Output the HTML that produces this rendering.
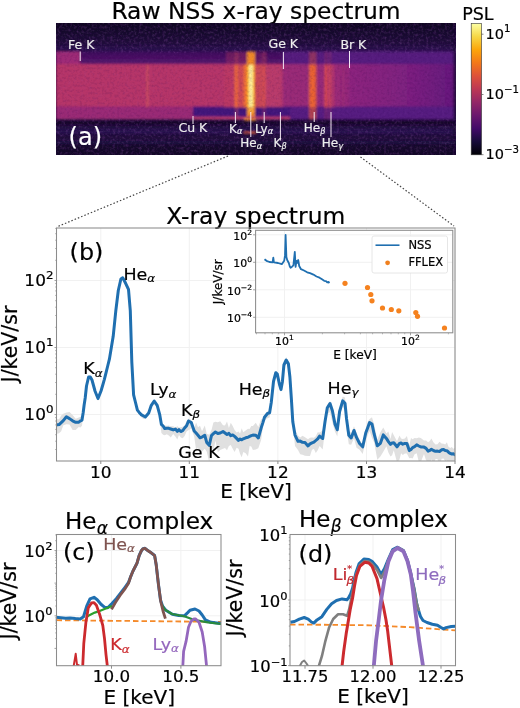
<!DOCTYPE html><html><head><meta charset="utf-8"><style>html,body{margin:0;padding:0;background:#fff;width:520px;height:708px;overflow:hidden}svg{display:block}text{font-family:'DejaVu Sans','Liberation Sans',sans-serif}</style></head><body>
<svg width="520" height="708" viewBox="0 0 520 708">
<defs>
<linearGradient id="cbar" x1="0" y1="1" x2="0" y2="0"><stop offset="0.0" stop-color="#000004"/><stop offset="0.1" stop-color="#160b39"/><stop offset="0.2" stop-color="#420a68"/><stop offset="0.3" stop-color="#6a176e"/><stop offset="0.4" stop-color="#932667"/><stop offset="0.5" stop-color="#bc3754"/><stop offset="0.6" stop-color="#dd513a"/><stop offset="0.7" stop-color="#f37819"/><stop offset="0.8" stop-color="#fca50a"/><stop offset="0.9" stop-color="#f6d746"/><stop offset="1.0" stop-color="#fcffa4"/></linearGradient>
<linearGradient id="mainband" x1="56" y1="0" x2="456" y2="0" gradientUnits="userSpaceOnUse">
<stop offset="0" stop-color="#b63468"/><stop offset="0.4" stop-color="#b63468"/><stop offset="0.56" stop-color="#b0326a"/>
<stop offset="0.567" stop-color="#9a2a76"/><stop offset="0.73" stop-color="#952879"/><stop offset="0.735" stop-color="#8c247d"/>
<stop offset="0.87" stop-color="#7e207f"/><stop offset="1" stop-color="#64187c"/></linearGradient>
<filter id="noise" x="0" y="0" width="100%" height="100%"><feTurbulence type="fractalNoise" baseFrequency="0.38" numOctaves="2" seed="3" result="t"/>
<feColorMatrix type="matrix" values="0 0 0 0 0.36  0 0 0 0 0.12  0 0 0 0 0.5  1.6 0 0 0 -0.7"/></filter>
<filter id="noise2" x="0" y="0" width="100%" height="100%"><feTurbulence type="fractalNoise" baseFrequency="0.4" numOctaves="2" seed="11" result="t"/>
<feColorMatrix type="matrix" values="0 0 0 0 0.02  0 0 0 0 0.0  0 0 0 0 0.06  1.8 0 0 0 -0.8"/></filter>
<filter id="soft" x="-5%" y="-5%" width="110%" height="110%"><feGaussianBlur stdDeviation="1.0"/></filter>
<clipPath id="clipa"><rect x="56" y="23" width="400" height="132"/></clipPath>
<clipPath id="clipb"><rect x="56.5" y="228" width="398.5" height="233"/></clipPath>
<clipPath id="clipi"><rect x="255.6" y="230.3" width="197.4" height="102.5"/></clipPath>
<clipPath id="clipc"><rect x="56.5" y="534.5" width="164.5" height="131.2"/></clipPath>
<clipPath id="clipd"><rect x="290" y="534.5" width="165.5" height="131.2"/></clipPath>
<linearGradient id="bgv" x1="0" y1="23" x2="0" y2="155" gradientUnits="userSpaceOnUse"><stop offset="0" stop-color="#0e0620"/><stop offset="0.06" stop-color="#140a2a"/><stop offset="0.13" stop-color="#1c0c36"/><stop offset="0.2" stop-color="#281044"/><stop offset="0.22" stop-color="#2c124c"/><stop offset="0.74" stop-color="#1a0a32"/><stop offset="0.76" stop-color="#140826"/><stop offset="0.8" stop-color="#1e0c38"/><stop offset="0.88" stop-color="#200e3a"/><stop offset="0.92" stop-color="#160a2c"/><stop offset="1" stop-color="#120826"/></linearGradient>
<linearGradient id="ubv" x1="0" y1="51.5" x2="0" y2="64.5" gradientUnits="userSpaceOnUse"><stop offset="0" stop-color="#3c0e5a"/><stop offset="1" stop-color="#5a146e"/></linearGradient>
</defs>
<text x="256" y="18.7" font-size="22.7" text-anchor="middle" fill="#000"  transform="matrix(1.03 0 0 1 -7.68 0)" stroke="#000" stroke-width="0.2">Raw NSS x-ray spectrum</text>
<g clip-path="url(#clipa)">
<rect x="56" y="23" width="400" height="132" fill="url(#bgv)"/>
<g filter="url(#soft)">
<rect x="56" y="46" width="400" height="6" fill="#24104a" opacity="0.8"/>
<rect x="56" y="51.5" width="400" height="13" fill="#2e0e54"/>
<rect x="56" y="51.5" width="24.5" height="13" fill="#9e2c76"/>
<rect x="80.5" y="51.5" width="202.5" height="13" fill="url(#ubv)"/>
<rect x="283" y="51.5" width="173" height="13" fill="#561a7e"/>
<rect x="56" y="64" width="400" height="43" fill="url(#mainband)"/>
<rect x="56" y="106.5" width="137" height="13" fill="#9a2b74"/>
<rect x="193" y="106.5" width="263" height="13" fill="#561a80"/>
<rect x="193" y="107" width="97" height="9.6" fill="#42167a"/>
<rect x="56" y="127" width="400" height="7" fill="#2a1250" opacity="0.6"/>
<rect x="56" y="131" width="400" height="2" fill="#2c1454" opacity="0.8"/>
<rect x="56" y="141" width="400" height="3" fill="#22104a" opacity="0.6"/>
<rect x="56" y="124.5" width="400" height="1.5" fill="#281250" opacity="0.6"/>
<rect x="146.8" y="64.5" width="1.4" height="43" fill="#e0605a" opacity="0.8"/>
<rect x="224" y="64.5" width="10" height="43" fill="#c03e60" opacity="0.6"/>
<rect x="234.3" y="64.5" width="4.2" height="43" fill="#e8643e" opacity="1.0"/>
<rect x="238.2" y="64.5" width="5.5" height="43" fill="#d04c52" opacity="0.95"/>
<rect x="243.5" y="64.5" width="3.5" height="43" fill="#f07030" opacity="1.0"/>
<rect x="246.5" y="64.5" width="9" height="43" fill="#f89424" opacity="1.0"/>
<rect x="248.2" y="64.5" width="5.4" height="43" fill="#fdd448" opacity="1.0"/>
<rect x="249.2" y="64.5" width="3.4" height="43" fill="#fff4a0" opacity="1.0"/>
<rect x="254.8" y="64.5" width="7" height="43" fill="#cc4a52" opacity="0.9"/>
<rect x="262" y="64.5" width="4" height="43" fill="#d44e50" opacity="0.9"/>
<rect x="266" y="64.5" width="17" height="43" fill="#c2426a" opacity="0.5"/>
<rect x="309" y="64.5" width="7.5" height="43" fill="#e25a36" opacity="1.0"/>
<rect x="310.5" y="64.5" width="4" height="43" fill="#ec6830" opacity="0.8"/>
<rect x="324.5" y="64.5" width="3" height="43" fill="#dc4c4c" opacity="0.95"/>
<rect x="328.5" y="64.5" width="3" height="43" fill="#d4485a" opacity="0.9"/>
<rect x="332.5" y="64.5" width="2" height="43" fill="#c44064" opacity="0.7"/>
<rect x="337.5" y="64.5" width="1.5" height="43" fill="#b03870" opacity="0.5"/>
<rect x="342.5" y="64.5" width="1.5" height="43" fill="#a83470" opacity="0.5"/>
<rect x="234.8" y="52" width="3.4" height="12.5" fill="#c04a60" opacity="0.45"/>
<rect x="234.8" y="107.5" width="3.4" height="12" fill="#c04a60" opacity="0.45"/>
<rect x="262" y="52" width="4" height="12.5" fill="#b04060" opacity="0.35"/>
<rect x="262" y="107.5" width="4" height="12" fill="#b04060" opacity="0.35"/>
<rect x="309" y="52" width="7.5" height="12.5" fill="#d05040" opacity="0.45"/>
<rect x="309" y="107.5" width="7.5" height="12" fill="#d05040" opacity="0.75"/>
<rect x="324.5" y="52" width="3" height="12.5" fill="#a03c60" opacity="0.4"/>
<rect x="324.5" y="107.5" width="3" height="12" fill="#a03c60" opacity="0.4"/>
<rect x="328.5" y="52" width="3" height="12.5" fill="#a03c60" opacity="0.35"/>
<rect x="328.5" y="107.5" width="3" height="12" fill="#a03c60" opacity="0.35"/>
<rect x="226" y="52" width="21" height="12.5" fill="#a03060" opacity="0.45"/>
<rect x="255" y="52" width="12" height="12.5" fill="#a03060" opacity="0.3"/>
<rect x="246.8" y="51.7" width="8.2" height="13" fill="#f08a28"/>
<rect x="246.8" y="107.5" width="8.2" height="12.2" fill="#f08a28"/>
<rect x="248.5" y="107.5" width="4.5" height="5" fill="#f8b040"/>
<rect x="193" y="116.6" width="97" height="3" fill="#b83a6c"/>
<rect x="244" y="118.2" width="12" height="2.5" fill="#f08a20"/>
<rect x="244" y="131.8" width="12" height="1.8" fill="#e06030"/>
<rect x="453.4" y="23" width="2.6" height="132" fill="#1a0830" opacity="0.75"/>
</g>
<rect x="56" y="23" width="400" height="30" filter="url(#noise)" opacity="0.4"/>
<rect x="56" y="23" width="400" height="30" filter="url(#noise2)" opacity="0.45"/>
<rect x="56" y="119" width="400" height="36" filter="url(#noise)" opacity="0.4"/>
<rect x="56" y="119" width="400" height="36" filter="url(#noise2)" opacity="0.45"/>
<rect x="56" y="53" width="400" height="66" filter="url(#noise)" opacity="0.12"/>
<rect x="56" y="53" width="400" height="66" filter="url(#noise2)" opacity="0.2"/>
</g>
<text x="68" y="49.3" font-size="12.5" text-anchor="start" fill="#eee"  transform="matrix(1.0 0 0 1 0.00 0)" stroke="#eee" stroke-width="0.2">Fe K</text>
<text x="268.5" y="48.2" font-size="12.5" text-anchor="start" fill="#eee"  transform="matrix(1.0 0 0 1 0.00 0)" stroke="#eee" stroke-width="0.2">Ge K</text>
<text x="340.4" y="48.5" font-size="12.5" text-anchor="start" fill="#eee"  transform="matrix(1.0 0 0 1 0.00 0)" stroke="#eee" stroke-width="0.2">Br K</text>
<text x="178.5" y="132.2" font-size="12.5" text-anchor="start" fill="#eee"  transform="matrix(1.0 0 0 1 0.00 0)" stroke="#eee" stroke-width="0.2">Cu K</text>
<text x="229" y="132.5" font-size="12" fill="#eee" transform="matrix(1.0 0 0 1 0.00 0)" stroke="#eee" stroke-width="0.2">K<tspan font-size="8.2" dy="1.9" font-style="italic">α</tspan></text>
<text x="255" y="132.5" font-size="12" fill="#eee" transform="matrix(1.0 0 0 1 0.00 0)" stroke="#eee" stroke-width="0.2">Ly<tspan font-size="8.2" dy="1.9" font-style="italic">α</tspan></text>
<text x="240.3" y="147" font-size="12" fill="#eee" transform="matrix(1.0 0 0 1 0.00 0)" stroke="#eee" stroke-width="0.2">He<tspan font-size="8.2" dy="1.9" font-style="italic">α</tspan></text>
<text x="273.6" y="147" font-size="12" fill="#eee" transform="matrix(1.0 0 0 1 0.00 0)" stroke="#eee" stroke-width="0.2">K<tspan font-size="8.2" dy="1.9" font-style="italic">β</tspan></text>
<text x="303.8" y="132" font-size="12" fill="#eee" transform="matrix(1.0 0 0 1 0.00 0)" stroke="#eee" stroke-width="0.2">He<tspan font-size="8.2" dy="1.9" font-style="italic">β</tspan></text>
<text x="321.8" y="146.6" font-size="12" fill="#eee" transform="matrix(1.0 0 0 1 0.00 0)" stroke="#eee" stroke-width="0.2">He<tspan font-size="8.2" dy="1.9" font-style="italic">γ</tspan></text>
<line x1="80.2" y1="51.5" x2="80.2" y2="61" stroke="#f4e8f4" stroke-width="1"/>
<line x1="283.4" y1="52" x2="283.4" y2="69" stroke="#f4e8f4" stroke-width="1"/>
<line x1="349.5" y1="51" x2="349.5" y2="68" stroke="#f4e8f4" stroke-width="1"/>
<line x1="193" y1="116" x2="193" y2="124" stroke="#f4e8f4" stroke-width="1"/>
<line x1="235.4" y1="112" x2="235.4" y2="123" stroke="#f4e8f4" stroke-width="1"/>
<line x1="250.8" y1="112" x2="250.8" y2="137" stroke="#f4e8f4" stroke-width="1"/>
<line x1="264.2" y1="112" x2="264.2" y2="123" stroke="#f4e8f4" stroke-width="1"/>
<line x1="280.4" y1="112" x2="280.4" y2="140.6" stroke="#f4e8f4" stroke-width="1"/>
<line x1="314.2" y1="112" x2="314.2" y2="122" stroke="#f4e8f4" stroke-width="1"/>
<line x1="331" y1="112" x2="331" y2="137" stroke="#f4e8f4" stroke-width="1"/>
<text x="68.6" y="144.8" font-size="24" text-anchor="start" fill="#fff"  transform="matrix(1.0 0 0 1 0.00 0)" stroke="#fff" stroke-width="0.2">(a)</text>
<rect x="471.2" y="23.5" width="10.3" height="131.3" fill="url(#cbar)" stroke="#333" stroke-width="0.6"/>
<text x="462.2" y="19.8" font-size="17.5" text-anchor="start" fill="#000"  transform="matrix(1.0 0 0 1 0.00 0)" stroke="#000" stroke-width="0.2">PSL</text>
<line x1="481.5" y1="34.2" x2="483.5" y2="34.2" stroke="#555" stroke-width="0.7"/>
<text x="485.6" y="38.5" font-size="14.5" transform="matrix(1.0 0 0 1 0.00 0)" stroke="#000" stroke-width="0.2">10<tspan font-size="10.2" dy="-6.2">1</tspan></text>
<line x1="481.5" y1="94.5" x2="483.5" y2="94.5" stroke="#555" stroke-width="0.7"/>
<text x="485.6" y="98.8" font-size="14.5" transform="matrix(1.0 0 0 1 0.00 0)" stroke="#000" stroke-width="0.2">10<tspan font-size="10.2" dy="-6.2">−1</tspan></text>
<line x1="481.5" y1="154.7" x2="483.5" y2="154.7" stroke="#555" stroke-width="0.7"/>
<text x="485.6" y="159.0" font-size="14.5" transform="matrix(1.0 0 0 1 0.00 0)" stroke="#000" stroke-width="0.2">10<tspan font-size="10.2" dy="-6.2">−3</tspan></text>
<line x1="228" y1="156" x2="56.5" y2="227" stroke="#444" stroke-width="1.2" stroke-dasharray="1.5,2"/>
<line x1="360.5" y1="157" x2="454" y2="226" stroke="#444" stroke-width="1.2" stroke-dasharray="1.5,2"/>
<text x="255.7" y="224" font-size="22.7" text-anchor="middle" fill="#000"  transform="matrix(1.03 0 0 1 -7.67 0)" stroke="#000" stroke-width="0.2">X-ray spectrum</text>
<line x1="100.8" y1="228" x2="100.8" y2="461" stroke="#f1f1f1" stroke-width="1"/>
<line x1="189.3" y1="228" x2="189.3" y2="461" stroke="#f1f1f1" stroke-width="1"/>
<line x1="277.9" y1="228" x2="277.9" y2="461" stroke="#f1f1f1" stroke-width="1"/>
<line x1="366.5" y1="228" x2="366.5" y2="461" stroke="#f1f1f1" stroke-width="1"/>
<line x1="455.0" y1="228" x2="455.0" y2="461" stroke="#f1f1f1" stroke-width="1"/>
<line x1="56.5" y1="414.5" x2="455" y2="414.5" stroke="#f1f1f1" stroke-width="1"/>
<line x1="56.5" y1="347.5" x2="455" y2="347.5" stroke="#f1f1f1" stroke-width="1"/>
<line x1="56.5" y1="280.5" x2="455" y2="280.5" stroke="#f1f1f1" stroke-width="1"/>
<g clip-path="url(#clipb)">
<polygon points="56.0,419.0 59.1,419.2 61.2,415.6 63.3,413.7 66.4,412.6 69.5,412.0 72.6,415.0 75.7,418.8 78.8,417.5 80.4,416.9 82.0,415.6 83.2,411.6 84.1,403.8 85.2,396.4 86.5,384.0 88.6,375.6 90.3,375.6 92.0,378.1 95.0,390.1 98.0,397.5 101.0,389.7 102.7,383.3 104.3,378.2 106.0,371.1 107.7,364.9 109.4,357.6 111.3,345.7 113.2,335.0 115.8,310.0 118.3,288.9 120.9,277.9 122.7,275.8 124.5,279.6 126.0,283.0 128.5,287.9 130.3,308.9 131.8,360.6 133.6,393.4 135.5,401.2 137.4,408.6 139.2,410.9 141.1,413.0 143.2,414.5 145.3,415.1 147.0,413.5 148.7,411.0 151.3,404.1 154.2,399.9 157.2,404.0 159.7,413.1 161.4,421.5 163.1,424.3 164.8,425.5 166.8,425.7 168.8,425.6 170.8,426.3 173.2,426.3 175.5,427.6 177.3,426.3 179.0,427.6 180.8,427.3 182.7,426.8 184.6,425.7 186.6,421.2 188.5,418.6 191.3,420.0 194.2,428.2 196.1,422.5 198.0,427.3 200.0,425.7 202.0,431.3 204.8,425.4 206.7,433.7 209.2,434.8 211.5,429.9 213.4,422.6 215.4,421.8 217.8,422.3 220.2,421.2 223.0,425.2 225.0,425.4 227.0,421.5 228.9,427.9 230.8,422.8 232.7,426.0 234.6,430.1 236.6,432.4 238.5,431.5 240.1,433.5 241.7,428.3 243.3,432.3 245.7,430.5 248.0,428.8 249.6,429.0 251.3,426.0 252.9,425.9 255.8,422.8 258.3,427.1 261.2,419.1 262.9,419.7 264.5,415.2 267.5,411.3 269.6,410.9 271.3,399.5 273.5,378.7 275.8,370.9 277.3,372.1 279.5,382.0 281.0,386.6 282.4,378.5 283.9,363.4 286.2,357.1 288.4,362.0 289.9,374.3 291.4,397.5 292.8,419.4 295.0,429.8 298.0,435.6 300.2,437.4 302.5,435.7 305.0,437.3 308.0,439.3 310.0,437.8 312.0,437.5 313.9,437.7 315.8,436.2 317.7,432.2 319.6,432.6 322.7,430.6 325.0,417.7 327.3,405.0 330.0,400.9 332.4,407.2 335.0,421.7 337.3,426.7 339.6,407.5 342.7,396.4 345.0,397.6 346.5,413.1 348.8,430.8 351.2,433.1 354.0,426.3 356.5,432.4 359.6,440.1 362.7,444.5 365.8,429.6 367.7,421.8 369.6,418.9 372.0,417.2 374.2,424.4 377.3,439.7 380.4,432.2 383.3,427.6 386.4,433.6 388.4,431.5 390.5,439.0 392.1,432.0 393.8,435.2 397.0,441.3 399.5,435.4 401.1,438.6 402.8,439.0 404.9,438.5 406.9,435.9 409.3,445.6 411.0,438.0 412.6,439.3 414.6,438.0 416.7,438.2 418.8,437.5 420.8,438.0 424.0,440.4 426.1,440.4 428.1,442.2 429.8,441.0 431.4,438.4 433.4,442.2 435.5,444.5 437.5,444.3 439.5,441.8 441.6,443.4 443.6,443.7 445.2,444.5 446.9,442.2 448.5,446.7 450.2,448.0 451.8,447.0 453.4,448.7 455.0,447.9 455.0,469.1 453.4,465.4 451.8,464.4 450.2,462.2 448.5,465.8 446.9,460.3 445.2,461.2 443.6,458.6 441.6,458.7 439.5,466.6 437.5,459.1 435.5,459.0 433.4,465.0 431.4,459.2 429.8,464.0 428.1,461.5 426.1,460.5 424.0,454.0 420.8,462.0 418.8,461.8 416.7,453.2 414.6,454.2 412.6,458.5 411.0,458.0 409.3,458.3 406.9,453.4 404.9,453.4 402.8,455.1 401.1,453.2 399.5,459.5 397.0,462.4 393.8,450.3 392.1,455.3 390.5,456.6 388.4,452.4 386.4,446.2 383.3,451.8 380.4,456.4 377.3,459.7 374.2,442.6 372.0,438.0 369.6,431.1 367.7,435.3 365.8,440.6 362.7,454.1 359.6,449.8 356.5,447.7 354.0,438.3 351.2,444.7 348.8,444.2 346.5,428.9 345.0,411.1 342.7,405.9 339.6,417.9 337.3,436.6 335.0,431.8 332.4,422.5 330.0,411.9 327.3,414.2 325.0,430.3 322.7,449.5 319.6,446.0 317.7,450.2 315.8,453.1 313.9,449.1 312.0,449.8 310.0,456.1 308.0,456.1 305.0,455.8 302.5,454.8 300.2,454.3 298.0,450.0 295.0,445.9 292.8,424.8 291.4,403.7 289.9,382.1 288.4,369.2 286.2,363.1 283.9,370.6 282.4,384.1 281.0,392.2 279.5,387.9 277.3,379.3 275.8,376.9 273.5,384.2 271.3,405.0 269.6,417.5 267.5,418.3 264.5,420.2 262.9,426.8 261.2,439.7 258.3,448.3 255.8,449.4 252.9,449.9 251.3,446.5 249.6,446.1 248.0,456.6 245.7,453.3 243.3,451.9 241.7,457.2 240.1,454.1 238.5,448.8 236.6,447.8 234.6,452.1 232.7,448.8 230.8,444.9 228.9,446.0 227.0,450.2 225.0,448.0 223.0,448.8 220.2,450.1 217.8,452.3 215.4,440.7 213.4,451.2 211.5,446.8 209.2,461.9 206.7,451.6 204.8,448.8 202.0,451.5 200.0,455.3 198.0,447.4 196.1,450.1 194.2,436.6 191.3,428.2 188.5,430.3 186.6,431.5 184.6,435.9 182.7,438.2 180.8,437.6 179.0,434.9 177.3,439.5 175.5,436.8 173.2,433.9 170.8,437.4 168.8,435.5 166.8,434.2 164.8,435.2 163.1,434.8 161.4,433.1 159.7,417.4 157.2,408.0 154.2,404.5 151.3,407.3 148.7,416.1 147.0,417.0 145.3,418.5 143.2,418.9 141.1,417.0 139.2,414.1 137.4,412.2 135.5,406.0 133.6,397.2 131.8,365.3 130.3,313.6 128.5,292.7 126.0,287.6 124.5,283.0 122.7,280.1 120.9,281.8 118.3,293.2 115.8,312.6 113.2,339.6 111.3,350.5 109.4,362.6 107.7,368.7 106.0,375.0 104.3,382.7 102.7,388.4 101.0,393.7 98.0,401.1 95.0,393.7 92.0,382.2 90.3,378.7 88.6,379.1 86.5,387.5 85.2,400.0 84.1,407.9 83.2,414.9 82.0,425.7 80.4,427.6 78.8,426.9 75.7,430.1 72.6,430.1 69.5,424.4 66.4,424.2 63.3,425.2 61.2,431.2 59.1,433.2 56.0,434.0" fill="#e0e0e0" stroke="none"/>
<polyline points="56.0,424.9 59.1,424.6 61.2,422.6 63.3,420.6 66.4,416.8 69.5,418.6 72.6,420.8 75.7,422.3 78.8,422.2 80.4,420.9 82.0,420.1 83.2,412.5 84.1,405.2 85.2,398.0 86.5,386.0 88.6,377.0 90.3,377.0 92.0,380.0 95.0,391.0 98.0,398.5 101.0,391.0 102.7,385.3 104.3,379.6 106.0,372.8 107.7,366.0 109.4,359.2 111.3,347.8 113.2,336.3 115.8,310.9 118.3,290.5 120.9,279.0 122.7,277.8 124.5,281.0 126.0,284.2 128.5,289.3 130.3,310.9 131.8,361.8 133.6,394.9 135.5,402.5 137.4,410.1 139.2,412.4 141.1,414.6 143.2,415.8 145.3,417.0 147.0,415.0 148.7,413.0 151.3,405.3 154.2,401.0 157.2,405.3 159.7,414.6 161.4,424.4 163.1,426.0 164.8,428.6 166.8,428.3 168.8,428.3 170.8,429.0 173.2,429.9 175.5,429.1 177.3,431.3 179.0,429.7 180.8,431.5 182.7,430.7 184.6,428.0 186.6,425.7 188.5,421.0 191.3,422.5 194.2,431.0 196.1,433.0 198.0,435.2 200.0,437.7 202.0,437.1 204.8,435.3 206.7,442.4 209.2,445.3 211.5,435.5 213.4,433.6 215.4,432.0 217.8,433.5 220.2,433.0 223.0,431.5 225.0,433.0 227.0,434.5 228.9,433.4 230.8,435.7 232.7,434.9 234.6,436.4 236.6,438.4 238.5,440.4 240.1,439.0 241.7,439.8 243.3,438.8 245.7,437.8 248.0,437.3 249.6,436.4 251.3,435.6 252.9,435.1 255.8,435.2 258.3,438.0 261.2,427.8 262.9,422.6 264.5,417.2 267.5,413.5 269.6,412.8 271.3,402.2 273.5,381.5 275.8,372.7 277.3,374.1 279.5,384.5 281.0,389.5 282.4,381.7 283.9,365.0 286.2,360.0 288.4,363.8 289.9,377.0 291.4,399.4 292.8,421.8 295.0,435.1 298.0,441.3 300.2,441.1 302.5,442.3 305.0,442.5 308.0,445.9 310.0,443.9 312.0,442.9 313.9,442.2 315.8,440.5 317.7,438.8 319.6,436.1 322.7,438.5 325.0,421.8 327.3,407.7 330.0,403.5 332.4,410.7 335.0,424.1 337.3,429.8 339.6,411.5 342.7,400.9 345.0,403.2 346.5,418.5 348.8,435.2 351.2,437.9 354.0,430.5 356.5,437.4 359.6,443.5 362.7,446.8 365.8,432.7 367.7,427.7 369.6,422.6 372.0,424.0 374.2,434.2 377.3,445.8 380.4,443.3 383.3,434.9 386.4,438.4 388.4,441.6 390.5,444.4 392.1,442.9 393.8,442.8 397.0,446.8 399.5,443.4 401.1,443.0 402.8,444.2 404.9,443.4 406.9,443.5 409.3,450.6 411.0,449.5 412.6,447.6 414.6,446.6 416.7,444.8 418.8,446.0 420.8,446.9 424.0,447.1 426.1,448.4 428.1,451.2 429.8,450.4 431.4,449.3 433.4,450.5 435.5,451.3 437.5,451.1 439.5,451.5 441.6,449.8 443.6,449.5 445.2,450.5 446.9,450.7 448.5,452.2 450.2,453.4 451.8,454.0 453.4,453.7 455.0,454.7" fill="none" stroke="#1f6fb0" stroke-width="3" stroke-linejoin="round" stroke-linecap="round"/>
</g>
<rect x="56.5" y="228" width="398.5" height="233" fill="none" stroke="#8c8c8c" stroke-width="1.05"/>
<line x1="100.8" y1="461" x2="100.8" y2="464" stroke="#8c8c8c" stroke-width="1"/>
<text x="100.8" y="477.8" font-size="16" text-anchor="middle" fill="#000"  transform="matrix(1.06 0 0 1 -6.05 0)" stroke="#000" stroke-width="0.2">10</text>
<line x1="189.3" y1="461" x2="189.3" y2="464" stroke="#8c8c8c" stroke-width="1"/>
<text x="189.3" y="477.8" font-size="16" text-anchor="middle" fill="#000"  transform="matrix(1.06 0 0 1 -11.36 0)" stroke="#000" stroke-width="0.2">11</text>
<line x1="277.9" y1="461" x2="277.9" y2="464" stroke="#8c8c8c" stroke-width="1"/>
<text x="277.9" y="477.8" font-size="16" text-anchor="middle" fill="#000"  transform="matrix(1.06 0 0 1 -16.67 0)" stroke="#000" stroke-width="0.2">12</text>
<line x1="366.5" y1="461" x2="366.5" y2="464" stroke="#8c8c8c" stroke-width="1"/>
<text x="366.5" y="477.8" font-size="16" text-anchor="middle" fill="#000"  transform="matrix(1.06 0 0 1 -21.99 0)" stroke="#000" stroke-width="0.2">13</text>
<line x1="455.0" y1="461" x2="455.0" y2="464" stroke="#8c8c8c" stroke-width="1"/>
<text x="455.0" y="477.8" font-size="16" text-anchor="middle" fill="#000"  transform="matrix(1.06 0 0 1 -27.30 0)" stroke="#000" stroke-width="0.2">14</text>
<line x1="55.3" y1="449.5" x2="56.5" y2="449.5" stroke="#8c8c8c" stroke-width="0.8"/>
<line x1="55.3" y1="441.2" x2="56.5" y2="441.2" stroke="#8c8c8c" stroke-width="0.8"/>
<line x1="55.3" y1="434.7" x2="56.5" y2="434.7" stroke="#8c8c8c" stroke-width="0.8"/>
<line x1="55.3" y1="429.4" x2="56.5" y2="429.4" stroke="#8c8c8c" stroke-width="0.8"/>
<line x1="55.3" y1="424.9" x2="56.5" y2="424.9" stroke="#8c8c8c" stroke-width="0.8"/>
<line x1="55.3" y1="421.0" x2="56.5" y2="421.0" stroke="#8c8c8c" stroke-width="0.8"/>
<line x1="55.3" y1="417.6" x2="56.5" y2="417.6" stroke="#8c8c8c" stroke-width="0.8"/>
<line x1="54.5" y1="414.5" x2="56.5" y2="414.5" stroke="#8c8c8c" stroke-width="0.8"/>
<line x1="55.3" y1="394.3" x2="56.5" y2="394.3" stroke="#8c8c8c" stroke-width="0.8"/>
<line x1="55.3" y1="382.5" x2="56.5" y2="382.5" stroke="#8c8c8c" stroke-width="0.8"/>
<line x1="55.3" y1="374.2" x2="56.5" y2="374.2" stroke="#8c8c8c" stroke-width="0.8"/>
<line x1="55.3" y1="367.7" x2="56.5" y2="367.7" stroke="#8c8c8c" stroke-width="0.8"/>
<line x1="55.3" y1="362.4" x2="56.5" y2="362.4" stroke="#8c8c8c" stroke-width="0.8"/>
<line x1="55.3" y1="357.9" x2="56.5" y2="357.9" stroke="#8c8c8c" stroke-width="0.8"/>
<line x1="55.3" y1="354.0" x2="56.5" y2="354.0" stroke="#8c8c8c" stroke-width="0.8"/>
<line x1="55.3" y1="350.6" x2="56.5" y2="350.6" stroke="#8c8c8c" stroke-width="0.8"/>
<line x1="54.5" y1="347.5" x2="56.5" y2="347.5" stroke="#8c8c8c" stroke-width="0.8"/>
<line x1="55.3" y1="327.3" x2="56.5" y2="327.3" stroke="#8c8c8c" stroke-width="0.8"/>
<line x1="55.3" y1="315.5" x2="56.5" y2="315.5" stroke="#8c8c8c" stroke-width="0.8"/>
<line x1="55.3" y1="307.2" x2="56.5" y2="307.2" stroke="#8c8c8c" stroke-width="0.8"/>
<line x1="55.3" y1="300.7" x2="56.5" y2="300.7" stroke="#8c8c8c" stroke-width="0.8"/>
<line x1="55.3" y1="295.4" x2="56.5" y2="295.4" stroke="#8c8c8c" stroke-width="0.8"/>
<line x1="55.3" y1="290.9" x2="56.5" y2="290.9" stroke="#8c8c8c" stroke-width="0.8"/>
<line x1="55.3" y1="287.0" x2="56.5" y2="287.0" stroke="#8c8c8c" stroke-width="0.8"/>
<line x1="55.3" y1="283.6" x2="56.5" y2="283.6" stroke="#8c8c8c" stroke-width="0.8"/>
<line x1="54.5" y1="280.5" x2="56.5" y2="280.5" stroke="#8c8c8c" stroke-width="0.8"/>
<line x1="55.3" y1="260.3" x2="56.5" y2="260.3" stroke="#8c8c8c" stroke-width="0.8"/>
<line x1="55.3" y1="248.5" x2="56.5" y2="248.5" stroke="#8c8c8c" stroke-width="0.8"/>
<line x1="55.3" y1="240.2" x2="56.5" y2="240.2" stroke="#8c8c8c" stroke-width="0.8"/>
<line x1="55.3" y1="233.7" x2="56.5" y2="233.7" stroke="#8c8c8c" stroke-width="0.8"/>
<line x1="55.3" y1="228.4" x2="56.5" y2="228.4" stroke="#8c8c8c" stroke-width="0.8"/>
<text x="53.5" y="420.5" font-size="16" text-anchor="end" transform="matrix(1.06 0 0 1 -3.21 0)" stroke="#000" stroke-width="0.2">10<tspan font-size="11.2" dy="-7">0</tspan></text>
<text x="53.5" y="353.5" font-size="16" text-anchor="end" transform="matrix(1.06 0 0 1 -3.21 0)" stroke="#000" stroke-width="0.2">10<tspan font-size="11.2" dy="-7">1</tspan></text>
<text x="53.5" y="286.5" font-size="16" text-anchor="end" transform="matrix(1.06 0 0 1 -3.21 0)" stroke="#000" stroke-width="0.2">10<tspan font-size="11.2" dy="-7">2</tspan></text>
<text transform="translate(17,344) rotate(-90)" font-size="20.5" text-anchor="middle" stroke="#000" stroke-width="0.2">J/keV/sr</text>
<text x="256" y="498" font-size="20" text-anchor="middle" fill="#000"  transform="matrix(1.0 0 0 1 0.00 0)" stroke="#000" stroke-width="0.2">E [keV]</text>
<text x="69.6" y="259.8" font-size="22.5" text-anchor="start" fill="#000"  transform="matrix(1.06 0 0 1 -4.18 0)" stroke="#000" stroke-width="0.2">(b)</text>
<text x="83.2" y="374.0" font-size="16.5" transform="matrix(1.06 0 0 1 -4.99 0)" stroke="#000" stroke-width="0.2">K<tspan font-size="11.2" dy="2.6" font-style="italic">α</tspan></text>
<text x="123.4" y="279.6" font-size="16.5" transform="matrix(1.06 0 0 1 -7.40 0)" stroke="#000" stroke-width="0.2">He<tspan font-size="11.2" dy="2.6" font-style="italic">α</tspan></text>
<text x="150.0" y="395.2" font-size="16.5" transform="matrix(1.06 0 0 1 -9.00 0)" stroke="#000" stroke-width="0.2">Ly<tspan font-size="11.2" dy="2.6" font-style="italic">α</tspan></text>
<text x="181.0" y="415.6" font-size="16.5" transform="matrix(1.06 0 0 1 -10.86 0)" stroke="#000" stroke-width="0.2">K<tspan font-size="11.2" dy="2.6" font-style="italic">β</tspan></text>
<text x="178.3" y="458.5" font-size="16.5" text-anchor="start" fill="#000"  transform="matrix(1.06 0 0 1 -10.70 0)" stroke="#000" stroke-width="0.2">Ge K</text>
<text x="238.7" y="394.8" font-size="16.5" transform="matrix(1.06 0 0 1 -14.32 0)" stroke="#000" stroke-width="0.2">He<tspan font-size="11.2" dy="2.6" font-style="italic">β</tspan></text>
<text x="327.5" y="393.6" font-size="16.5" transform="matrix(1.06 0 0 1 -19.65 0)" stroke="#000" stroke-width="0.2">He<tspan font-size="11.2" dy="2.6" font-style="italic">γ</tspan></text>
<rect x="255.6" y="230.3" width="197.20000000000002" height="102.5" fill="#fff"/>
<line x1="284.5" y1="230.3" x2="284.5" y2="332.8" stroke="#f1f1f1" stroke-width="1"/>
<line x1="410.5" y1="230.3" x2="410.5" y2="332.8" stroke="#f1f1f1" stroke-width="1"/>
<line x1="255.6" y1="234.8" x2="452.8" y2="234.8" stroke="#f1f1f1" stroke-width="1"/>
<line x1="255.6" y1="262.3" x2="452.8" y2="262.3" stroke="#f1f1f1" stroke-width="1"/>
<line x1="255.6" y1="289.8" x2="452.8" y2="289.8" stroke="#f1f1f1" stroke-width="1"/>
<line x1="255.6" y1="317.3" x2="452.8" y2="317.3" stroke="#f1f1f1" stroke-width="1"/>
<g clip-path="url(#clipi)">
<polyline points="264.5,259.2 266.5,260.8 269.5,262.0 272.6,262.3 273.3,257.7 273.9,262.3 278.0,263.0 281.8,264.2 284.2,260.8 285.0,255.4 285.6,234.8 286.4,257.0 287.2,260.0 288.8,263.0 289.8,266.5 290.6,267.7 291.8,266.9 293.4,265.4 294.8,251.8 295.6,266.9 296.5,260.8 297.2,263.0 298.2,260.0 299.2,266.0 301.0,269.2 304.0,270.5 307.2,272.3 310.0,273.2 313.4,274.6 316.5,276.5 319.5,277.7 322.0,279.3 324.2,280.8 326.0,281.2 327.2,282.3 328.5,282.0 329.5,283.0" fill="none" stroke="#1f6fb0" stroke-width="1.8" stroke-linejoin="round"/>
<circle cx="345" cy="283.3" r="2.6" fill="#f5821f"/>
<circle cx="367.5" cy="287.5" r="2.6" fill="#f5821f"/>
<circle cx="370.8" cy="294.5" r="2.6" fill="#f5821f"/>
<circle cx="372" cy="300.8" r="2.6" fill="#f5821f"/>
<circle cx="382.5" cy="308" r="2.6" fill="#f5821f"/>
<circle cx="391.3" cy="309.5" r="2.6" fill="#f5821f"/>
<circle cx="398.8" cy="310.8" r="2.6" fill="#f5821f"/>
<circle cx="415.8" cy="312.5" r="2.6" fill="#f5821f"/>
<circle cx="417.5" cy="316.3" r="2.6" fill="#f5821f"/>
<circle cx="444.5" cy="328" r="2.6" fill="#f5821f"/>
</g>
<rect x="255.6" y="230.3" width="197.20000000000002" height="102.5" fill="none" stroke="#8c8c8c" stroke-width="1.05"/>
<rect x="372" y="236" width="75.5" height="37" fill="#fff" stroke="#e0e0e0" stroke-width="0.8" rx="2"/>
<line x1="375.5" y1="245.2" x2="399.5" y2="245.2" stroke="#1f6fb0" stroke-width="1.6"/>
<circle cx="387.6" cy="262.8" r="2.4" fill="#f0801e"/>
<text x="408.4" y="249.3" font-size="11.5" text-anchor="start" fill="#000"  transform="matrix(1.0 0 0 1 0.00 0)" stroke="#000" stroke-width="0.2">NSS</text>
<text x="408.4" y="266.3" font-size="11.5" text-anchor="start" fill="#000"  transform="matrix(1.0 0 0 1 0.00 0)" stroke="#000" stroke-width="0.2">FFLEX</text>
<line x1="253.1" y1="234.8" x2="255.6" y2="234.8" stroke="#8c8c8c" stroke-width="0.8"/>
<text x="252.1" y="239.6" font-size="10.3" text-anchor="end" transform="matrix(1.06 0 0 1 -15.13 0)" stroke="#000" stroke-width="0.2">10<tspan font-size="7.2" dy="-4.6">2</tspan></text>
<line x1="253.1" y1="262.3" x2="255.6" y2="262.3" stroke="#8c8c8c" stroke-width="0.8"/>
<text x="252.1" y="267.1" font-size="10.3" text-anchor="end" transform="matrix(1.06 0 0 1 -15.13 0)" stroke="#000" stroke-width="0.2">10<tspan font-size="7.2" dy="-4.6">0</tspan></text>
<line x1="253.1" y1="289.8" x2="255.6" y2="289.8" stroke="#8c8c8c" stroke-width="0.8"/>
<text x="252.1" y="294.6" font-size="10.3" text-anchor="end" transform="matrix(1.06 0 0 1 -15.13 0)" stroke="#000" stroke-width="0.2">10<tspan font-size="7.2" dy="-4.6">−2</tspan></text>
<line x1="253.1" y1="317.3" x2="255.6" y2="317.3" stroke="#8c8c8c" stroke-width="0.8"/>
<text x="252.1" y="322.1" font-size="10.3" text-anchor="end" transform="matrix(1.06 0 0 1 -15.13 0)" stroke="#000" stroke-width="0.2">10<tspan font-size="7.2" dy="-4.6">−4</tspan></text>
<line x1="284.5" y1="332.8" x2="284.5" y2="335.3" stroke="#8c8c8c" stroke-width="0.8"/>
<text x="284.5" y="344.7" font-size="10.3" text-anchor="middle" transform="matrix(1.06 0 0 1 -17.07 0)" stroke="#000" stroke-width="0.2">10<tspan font-size="7.2" dy="-4.6">1</tspan></text>
<line x1="410.5" y1="332.8" x2="410.5" y2="335.3" stroke="#8c8c8c" stroke-width="0.8"/>
<text x="410.5" y="344.7" font-size="10.3" text-anchor="middle" transform="matrix(1.06 0 0 1 -24.63 0)" stroke="#000" stroke-width="0.2">10<tspan font-size="7.2" dy="-4.6">2</tspan></text>
<line x1="256.5" y1="332.8" x2="256.5" y2="334.3" stroke="#8c8c8c" stroke-width="0.6"/>
<line x1="265.0" y1="332.8" x2="265.0" y2="334.3" stroke="#8c8c8c" stroke-width="0.6"/>
<line x1="272.3" y1="332.8" x2="272.3" y2="334.3" stroke="#8c8c8c" stroke-width="0.6"/>
<line x1="278.7" y1="332.8" x2="278.7" y2="334.3" stroke="#8c8c8c" stroke-width="0.6"/>
<line x1="322.4" y1="332.8" x2="322.4" y2="334.3" stroke="#8c8c8c" stroke-width="0.6"/>
<line x1="344.6" y1="332.8" x2="344.6" y2="334.3" stroke="#8c8c8c" stroke-width="0.6"/>
<line x1="360.4" y1="332.8" x2="360.4" y2="334.3" stroke="#8c8c8c" stroke-width="0.6"/>
<line x1="372.6" y1="332.8" x2="372.6" y2="334.3" stroke="#8c8c8c" stroke-width="0.6"/>
<line x1="382.5" y1="332.8" x2="382.5" y2="334.3" stroke="#8c8c8c" stroke-width="0.6"/>
<line x1="391.0" y1="332.8" x2="391.0" y2="334.3" stroke="#8c8c8c" stroke-width="0.6"/>
<line x1="398.3" y1="332.8" x2="398.3" y2="334.3" stroke="#8c8c8c" stroke-width="0.6"/>
<line x1="404.7" y1="332.8" x2="404.7" y2="334.3" stroke="#8c8c8c" stroke-width="0.6"/>
<line x1="448.4" y1="332.8" x2="448.4" y2="334.3" stroke="#8c8c8c" stroke-width="0.6"/>
<text transform="translate(222,281.7) rotate(-90)" font-size="12" text-anchor="middle" stroke="#000" stroke-width="0.2">J/keV/sr</text>
<text x="355" y="358.8" font-size="11.5" text-anchor="middle" fill="#000"  transform="matrix(1.06 0 0 1 -21.30 0)" stroke="#000" stroke-width="0.2">E [keV]</text>
<text x="65" y="529.2" font-size="23" stroke="#000" stroke-width="0.2">He<tspan font-size="17" dx="0.3" dy="5" font-style="italic">α</tspan><tspan x="115" dy="-5" font-size="23.2">complex</tspan></text>
<line x1="111.5" y1="534.5" x2="111.5" y2="665.7" stroke="#f1f1f1" stroke-width="1"/>
<line x1="180.9" y1="534.5" x2="180.9" y2="665.7" stroke="#f1f1f1" stroke-width="1"/>
<line x1="56.5" y1="615.8" x2="221" y2="615.8" stroke="#f1f1f1" stroke-width="1"/>
<line x1="56.5" y1="550.5" x2="221" y2="550.5" stroke="#f1f1f1" stroke-width="1"/>
<g clip-path="url(#clipc)">
<line x1="56.5" y1="620.2" x2="221" y2="621.9" stroke="#f58a2a" stroke-width="1.8" stroke-dasharray="5.5,3"/>
<polyline points="56.0,617.2 60.8,617.7 65.7,618.3 70.0,618.0 75.4,618.6 80.2,619.0 83.5,616.7 86.7,606.2 90.0,598.9 94.0,597.3 97.2,599.7 101.2,604.5 104.5,607.2 107.7,607.8 111.7,603.7 116.5,598.5 121.5,592.0 125.0,587.3 128.5,582.5 130.8,576.3 133.0,571.0 137.0,563.2 139.2,555.5 141.5,550.5 143.0,548.8 145.0,548.3 147.7,550.5 150.8,552.5 154.6,555.5 156.2,564.8 158.5,584.8 160.5,600.0 162.6,606.2 165.8,610.2 172.3,614.2 178.8,615.5 184.4,615.8 187.7,612.6 190.0,610.2 195.0,609.0 199.0,611.0 202.2,615.0 205.4,619.9 211.0,622.3 221.0,623.6" fill="none" stroke="#1f6fb0" stroke-width="3" stroke-linejoin="round"/>
<polyline points="86.5,617.2 88.3,615.8 94.8,612.6 99.6,611.0 107.7,607.8 112.0,606.0" fill="none" stroke="#2ca02c" stroke-width="2.2" stroke-linejoin="round"/>
<polyline points="161.5,604.0 164.6,609.4 172.0,614.0 180.0,615.5 185.0,616.5 191.7,619.0 198.0,620.7 207.9,622.3 221.0,624.0" fill="none" stroke="#2a8a3c" stroke-width="2.2" stroke-linejoin="round"/>
<polyline points="111.5,609.4 115.4,602.5 120.0,595.5 124.6,589.4 128.5,583.2 130.8,576.3 133.0,571.0 137.0,563.2 139.2,555.5 141.5,550.5 143.0,548.8 145.0,548.3 147.7,550.5 150.8,552.5 154.6,555.5 156.2,564.8 158.5,584.8 160.8,601.7 163.0,611.0 165.4,618.6" fill="none" stroke="#7f5450" stroke-width="2.8" stroke-linejoin="round"/>
<polyline points="82.7,666.5 83.8,643.3 85.9,622.3 88.3,607.8 91.5,602.9 94.0,602.6 96.4,605.3 99.6,614.2 102.8,625.5 104.5,638.5 106.0,654.6 107.4,666.5" fill="none" stroke="#cc2a2e" stroke-width="2.8" stroke-linejoin="round"/>
<polyline points="73.6,666.5 75.7,653.8 77.0,664.8 79.4,665.5" fill="none" stroke="#cc2a2e" stroke-width="2" stroke-linejoin="round"/>
<polyline points="182.8,666.5 183.6,651.4 186.0,641.7 188.5,627.2 190.9,621.5 194.0,618.8 195.7,619.0 199.0,622.3 202.2,632.0 204.6,646.5 206.6,666.5" fill="none" stroke="#9467bd" stroke-width="2.8" stroke-linejoin="round"/>
</g>
<rect x="56.5" y="534.5" width="164.5" height="131.20000000000005" fill="none" stroke="#8c8c8c" stroke-width="1.05"/>
<line x1="111.5" y1="665.7" x2="111.5" y2="668.7" stroke="#8c8c8c" stroke-width="1"/>
<text x="111.5" y="682.3" font-size="15.8" text-anchor="middle" fill="#000"  transform="matrix(1.06 0 0 1 -6.69 0)" stroke="#000" stroke-width="0.2">10.0</text>
<line x1="180.9" y1="665.7" x2="180.9" y2="668.7" stroke="#8c8c8c" stroke-width="1"/>
<text x="180.9" y="682.3" font-size="15.8" text-anchor="middle" fill="#000"  transform="matrix(1.06 0 0 1 -10.85 0)" stroke="#000" stroke-width="0.2">10.5</text>
<line x1="54.5" y1="648.4" x2="56.5" y2="648.4" stroke="#8c8c8c" stroke-width="0.8"/>
<line x1="55.3" y1="638.6" x2="56.5" y2="638.6" stroke="#8c8c8c" stroke-width="0.8"/>
<line x1="55.3" y1="632.9" x2="56.5" y2="632.9" stroke="#8c8c8c" stroke-width="0.8"/>
<line x1="55.3" y1="628.8" x2="56.5" y2="628.8" stroke="#8c8c8c" stroke-width="0.8"/>
<line x1="55.3" y1="625.6" x2="56.5" y2="625.6" stroke="#8c8c8c" stroke-width="0.8"/>
<line x1="55.3" y1="623.0" x2="56.5" y2="623.0" stroke="#8c8c8c" stroke-width="0.8"/>
<line x1="55.3" y1="620.9" x2="56.5" y2="620.9" stroke="#8c8c8c" stroke-width="0.8"/>
<line x1="55.3" y1="619.0" x2="56.5" y2="619.0" stroke="#8c8c8c" stroke-width="0.8"/>
<line x1="55.3" y1="617.3" x2="56.5" y2="617.3" stroke="#8c8c8c" stroke-width="0.8"/>
<line x1="54.5" y1="615.8" x2="56.5" y2="615.8" stroke="#8c8c8c" stroke-width="0.8"/>
<line x1="55.3" y1="606.0" x2="56.5" y2="606.0" stroke="#8c8c8c" stroke-width="0.8"/>
<line x1="55.3" y1="600.2" x2="56.5" y2="600.2" stroke="#8c8c8c" stroke-width="0.8"/>
<line x1="55.3" y1="596.1" x2="56.5" y2="596.1" stroke="#8c8c8c" stroke-width="0.8"/>
<line x1="55.3" y1="593.0" x2="56.5" y2="593.0" stroke="#8c8c8c" stroke-width="0.8"/>
<line x1="55.3" y1="590.4" x2="56.5" y2="590.4" stroke="#8c8c8c" stroke-width="0.8"/>
<line x1="55.3" y1="588.2" x2="56.5" y2="588.2" stroke="#8c8c8c" stroke-width="0.8"/>
<line x1="55.3" y1="586.3" x2="56.5" y2="586.3" stroke="#8c8c8c" stroke-width="0.8"/>
<line x1="55.3" y1="584.6" x2="56.5" y2="584.6" stroke="#8c8c8c" stroke-width="0.8"/>
<line x1="54.5" y1="583.1" x2="56.5" y2="583.1" stroke="#8c8c8c" stroke-width="0.8"/>
<line x1="55.3" y1="573.3" x2="56.5" y2="573.3" stroke="#8c8c8c" stroke-width="0.8"/>
<line x1="55.3" y1="567.6" x2="56.5" y2="567.6" stroke="#8c8c8c" stroke-width="0.8"/>
<line x1="55.3" y1="563.5" x2="56.5" y2="563.5" stroke="#8c8c8c" stroke-width="0.8"/>
<line x1="55.3" y1="560.3" x2="56.5" y2="560.3" stroke="#8c8c8c" stroke-width="0.8"/>
<line x1="55.3" y1="557.7" x2="56.5" y2="557.7" stroke="#8c8c8c" stroke-width="0.8"/>
<line x1="55.3" y1="555.6" x2="56.5" y2="555.6" stroke="#8c8c8c" stroke-width="0.8"/>
<line x1="55.3" y1="553.7" x2="56.5" y2="553.7" stroke="#8c8c8c" stroke-width="0.8"/>
<line x1="55.3" y1="552.0" x2="56.5" y2="552.0" stroke="#8c8c8c" stroke-width="0.8"/>
<line x1="54.5" y1="550.5" x2="56.5" y2="550.5" stroke="#8c8c8c" stroke-width="0.8"/>
<line x1="55.3" y1="540.7" x2="56.5" y2="540.7" stroke="#8c8c8c" stroke-width="0.8"/>
<line x1="55.3" y1="534.9" x2="56.5" y2="534.9" stroke="#8c8c8c" stroke-width="0.8"/>
<text x="52.5" y="622.3" font-size="15.5" text-anchor="end" transform="matrix(1.06 0 0 1 -3.15 0)" stroke="#000" stroke-width="0.2">10<tspan font-size="10.8" dy="-6.8">0</tspan></text>
<text x="52.5" y="557.0" font-size="15.5" text-anchor="end" transform="matrix(1.06 0 0 1 -3.15 0)" stroke="#000" stroke-width="0.2">10<tspan font-size="10.8" dy="-6.8">2</tspan></text>
<text transform="translate(16,601) rotate(-90)" font-size="20.5" text-anchor="middle" stroke="#000" stroke-width="0.2">J/keV/sr</text>
<text x="139.3" y="703.6" font-size="20" text-anchor="middle" fill="#000"  transform="matrix(1.0 0 0 1 0.00 0)" stroke="#000" stroke-width="0.2">E [keV]</text>
<text x="63" y="560" font-size="22.5" text-anchor="start" fill="#000"  transform="matrix(1.06 0 0 1 -3.78 0)" stroke="#000" stroke-width="0.2">(c)</text>
<text x="103.2" y="549.8" font-size="16.5" fill="#7f5450" transform="matrix(1.06 0 0 1 -6.19 0)" stroke="#7f5450" stroke-width="0.2">He<tspan font-size="11.2" dy="2.6" font-style="italic">α</tspan></text>
<text x="110.2" y="650.2" font-size="16.5" fill="#cc2a2e" transform="matrix(1.06 0 0 1 -6.61 0)" stroke="#cc2a2e" stroke-width="0.2">K<tspan font-size="11.2" dy="2.6" font-style="italic">α</tspan></text>
<text x="152.6" y="649.8" font-size="16.5" fill="#9467bd" transform="matrix(1.06 0 0 1 -9.16 0)" stroke="#9467bd" stroke-width="0.2">Ly<tspan font-size="11.2" dy="2.6" font-style="italic">α</tspan></text>
<text x="299" y="527" font-size="23" stroke="#000" stroke-width="0.2">He<tspan font-size="17" dx="0.3" dy="5" font-style="italic">β</tspan><tspan x="349.6" dy="-5" font-size="23.2">complex</tspan></text>
<line x1="305.0" y1="534.5" x2="305.0" y2="665.7" stroke="#f1f1f1" stroke-width="1"/>
<line x1="373.0" y1="534.5" x2="373.0" y2="665.7" stroke="#f1f1f1" stroke-width="1"/>
<line x1="441.0" y1="534.5" x2="441.0" y2="665.7" stroke="#f1f1f1" stroke-width="1"/>
<line x1="290" y1="600.0" x2="455.5" y2="600.0" stroke="#f1f1f1" stroke-width="1"/>
<g clip-path="url(#clipd)">
<polyline points="290,624.6 330,624.8 370,625.3 410,627.2 455.5,630.4" fill="none" stroke="#f58a2a" stroke-width="1.8" stroke-dasharray="5.5,3"/>
<polyline points="290.4,622.3 294.5,621.5 299.3,619.1 304.2,617.5 308.2,619.1 311.4,622.0 313.8,623.1 317.0,619.9 321.9,616.7 326.8,609.4 331.6,603.7 336.5,600.5 342.1,598.9 347.0,599.7 348.6,597.8 350.6,594.0 352.6,588.0 354.2,580.0 355.9,572.8 359.0,563.9 363.9,559.0 368.8,559.5 372.0,561.3 377.0,567.0 381.1,574.5 384.4,568.7 388.5,558.8 392.7,549.7 397.6,547.2 403.4,550.5 407.5,560.4 410.8,573.7 414.1,588.5 416.6,603.0 418.4,610.0 420.5,616.5 423.0,620.5 427.0,622.5 432.3,624.2 437.5,625.2 441.0,627.5 443.5,628.8 446.0,627.6 451.3,626.5 455.5,626.3" fill="none" stroke="#1f6fb0" stroke-width="3" stroke-linejoin="round"/>
<polyline points="318.7,666.5 321.9,656.2 325.2,641.7 329.2,627.2 333.2,619.0 338.1,614.2 343.0,614.2 347.0,615.8 349.0,610.0 352.0,595.0 355.9,575.0 359.9,565.0 364.7,561.0 368.8,561.5 372.0,564.0 377.0,570.0 381.1,578.0 384.4,572.0 388.5,560.0 392.7,550.5 397.6,547.5 403.4,550.5 407.5,560.4 410.8,573.7 414.1,588.5 416.6,603.0 419.0,611.0" fill="none" stroke="#7f7f7f" stroke-width="2.6" stroke-linejoin="round"/>
<polyline points="299.5,666.5 302.0,662.0 304.2,660.5 306.5,663.5 308.5,666.5" fill="none" stroke="#7f7f7f" stroke-width="2" stroke-linejoin="round"/>
<polyline points="342.0,666.5 343.7,651.4 346.2,633.6 348.1,622.3 350.2,609.4 352.6,598.0 354.5,586.0 356.5,575.5 359.9,566.3 364.7,562.3 368.8,563.0 372.0,566.2 377.0,578.6 380.0,592.0 383.5,607.0 386.0,620.0 387.7,631.3 391.8,666.5" fill="none" stroke="#cc2a2e" stroke-width="3" stroke-linejoin="round"/>
<polyline points="373.7,667.3 376.1,640.4 378.6,620.8 381.0,600.8 384.4,579.8 388.5,561.2 392.7,551.3 397.6,548.0 403.4,551.3 407.5,561.2 410.8,574.5 413.0,590.8 415.5,612.8 419.1,640.4 423.2,667.3" fill="none" stroke="#8e6cbe" stroke-width="3.8" stroke-linejoin="round"/>
</g>
<rect x="290" y="534.5" width="165.5" height="131.20000000000005" fill="none" stroke="#8c8c8c" stroke-width="1.05"/>
<line x1="305.0" y1="665.7" x2="305.0" y2="668.7" stroke="#8c8c8c" stroke-width="1"/>
<text x="305.0" y="682.3" font-size="15.5" text-anchor="middle" fill="#000"  transform="matrix(1.06 0 0 1 -18.30 0)" stroke="#000" stroke-width="0.2">11.75</text>
<line x1="373.0" y1="665.7" x2="373.0" y2="668.7" stroke="#8c8c8c" stroke-width="1"/>
<text x="373.0" y="682.3" font-size="15.5" text-anchor="middle" fill="#000"  transform="matrix(1.06 0 0 1 -22.38 0)" stroke="#000" stroke-width="0.2">12.00</text>
<line x1="441.0" y1="665.7" x2="441.0" y2="668.7" stroke="#8c8c8c" stroke-width="1"/>
<text x="441.0" y="682.3" font-size="15.5" text-anchor="middle" fill="#000"  transform="matrix(1.06 0 0 1 -26.46 0)" stroke="#000" stroke-width="0.2">12.25</text>
<line x1="288" y1="665.6" x2="290" y2="665.6" stroke="#8c8c8c" stroke-width="0.8"/>
<line x1="288.8" y1="645.9" x2="290" y2="645.9" stroke="#8c8c8c" stroke-width="0.8"/>
<line x1="288.8" y1="634.3" x2="290" y2="634.3" stroke="#8c8c8c" stroke-width="0.8"/>
<line x1="288.8" y1="626.1" x2="290" y2="626.1" stroke="#8c8c8c" stroke-width="0.8"/>
<line x1="288.8" y1="619.7" x2="290" y2="619.7" stroke="#8c8c8c" stroke-width="0.8"/>
<line x1="288.8" y1="614.6" x2="290" y2="614.6" stroke="#8c8c8c" stroke-width="0.8"/>
<line x1="288.8" y1="610.2" x2="290" y2="610.2" stroke="#8c8c8c" stroke-width="0.8"/>
<line x1="288.8" y1="606.4" x2="290" y2="606.4" stroke="#8c8c8c" stroke-width="0.8"/>
<line x1="288.8" y1="603.0" x2="290" y2="603.0" stroke="#8c8c8c" stroke-width="0.8"/>
<line x1="288" y1="600.0" x2="290" y2="600.0" stroke="#8c8c8c" stroke-width="0.8"/>
<line x1="288.8" y1="580.3" x2="290" y2="580.3" stroke="#8c8c8c" stroke-width="0.8"/>
<line x1="288.8" y1="568.7" x2="290" y2="568.7" stroke="#8c8c8c" stroke-width="0.8"/>
<line x1="288.8" y1="560.5" x2="290" y2="560.5" stroke="#8c8c8c" stroke-width="0.8"/>
<line x1="288.8" y1="554.1" x2="290" y2="554.1" stroke="#8c8c8c" stroke-width="0.8"/>
<line x1="288.8" y1="549.0" x2="290" y2="549.0" stroke="#8c8c8c" stroke-width="0.8"/>
<line x1="288.8" y1="544.6" x2="290" y2="544.6" stroke="#8c8c8c" stroke-width="0.8"/>
<line x1="288.8" y1="540.8" x2="290" y2="540.8" stroke="#8c8c8c" stroke-width="0.8"/>
<line x1="288.8" y1="537.4" x2="290" y2="537.4" stroke="#8c8c8c" stroke-width="0.8"/>
<text x="287.5" y="541.2" font-size="15.5" text-anchor="end" transform="matrix(1.06 0 0 1 -17.25 0)" stroke="#000" stroke-width="0.2">10<tspan font-size="10.8" dy="-6.8">1</tspan></text>
<text x="287.5" y="606.8" font-size="15.5" text-anchor="end" transform="matrix(1.06 0 0 1 -17.25 0)" stroke="#000" stroke-width="0.2">10<tspan font-size="10.8" dy="-6.8">0</tspan></text>
<text x="287.5" y="672.4" font-size="15.5" text-anchor="end" transform="matrix(1.06 0 0 1 -17.25 0)" stroke="#000" stroke-width="0.2">10<tspan font-size="10.8" dy="-6.8">−1</tspan></text>
<text transform="translate(242,598) rotate(-90)" font-size="20.5" text-anchor="middle" stroke="#000" stroke-width="0.2">J/keV/sr</text>
<text x="373" y="703.2" font-size="20" text-anchor="middle" fill="#000"  transform="matrix(1.0 0 0 1 0.00 0)" stroke="#000" stroke-width="0.2">E [keV]</text>
<text x="298.6" y="562.5" font-size="22.5" text-anchor="start" fill="#000"  transform="matrix(1.06 0 0 1 -17.92 0)" stroke="#000" stroke-width="0.2">(d)</text>
<text x="332.7" y="580" font-size="16.5" fill="#c0282e" transform="matrix(1.06 0 0 1 -19.96 0)" stroke="#c0282e" stroke-width="0.2">Li<tspan font-size="9" dy="-8">*</tspan><tspan font-size="11.2" dx="-5.2" dy="12.3" font-style="italic">β</tspan></text>
<text x="415.3" y="580" font-size="16.5" fill="#8e6cbe" transform="matrix(1.06 0 0 1 -24.92 0)" stroke="#8e6cbe" stroke-width="0.2">He<tspan font-size="9" dy="-8">*</tspan><tspan font-size="11.2" dx="-5.2" dy="12.3" font-style="italic">β</tspan></text>
</svg></body></html>
